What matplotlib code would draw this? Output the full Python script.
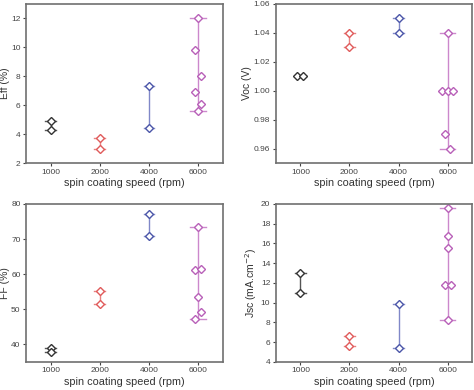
import matplotlib
matplotlib.use("Agg")
import matplotlib.pyplot as plt

plt.rcParams['font.family'] = ['Liberation Sans', 'DejaVu Sans']

speeds = ["1000", "2000", "4000", "6000"]
colors = ["#333333", "#e05a5a", "#4a55a8", "#b860b8"]
line_colors = ["#555555", "#e88080", "#8088c8", "#cc88cc"]

eff = [[4.9, 4.3], [3.7, 3.0], [7.3, 4.4], [12.0, 9.8, 8.0, 6.9, 6.1, 5.6]]
voc = [[1.01, 1.01], [1.04, 1.03], [1.05, 1.04], [1.04, 1.00, 1.00, 1.00, 0.97, 0.96]]
ff = [[38.9, 37.7], [55.3, 51.4], [77.2, 71.0], [73.5, 61.1, 61.5, 53.4, 49.2, 47.3]]
jsc = [[13.0, 11.0], [6.6, 5.6], [9.9, 5.4], [19.6, 16.8, 15.5, 11.8, 11.8, 8.2]]

# horizontal jitter of the points (layout only)
eff_off = [[0, 0], [0, 0], [0, 0], [0, -0.06, 0.06, -0.06, 0.06, 0]]
voc_off = [[-0.06, 0.06], [0, 0], [0, 0], [0, -0.115, 0, 0.115, -0.055, 0.055]]
ff_off = [[0, 0], [0, 0], [0, 0], [0, -0.06, 0.06, 0, 0.06, -0.06]]
jsc_off = [[0, 0], [0, 0], [0, 0], [0, 0, 0, -0.06, 0.06, 0]]

fig = plt.figure(figsize=(4.74, 3.9), dpi=100)

panels = [
    (eff, eff_off, "Eff (%)", (2, 13), [2, 4, 6, 8, 10, 12], None, [0.055, 0.582, 0.415, 0.408]),
    (voc, voc_off, "Voc (V)", (0.95, 1.06), [0.96, 0.98, 1.00, 1.02, 1.04, 1.06], "%.2f", [0.582, 0.582, 0.414, 0.408]),
    (ff, ff_off, "FF (%)", (35, 80), [40, 50, 60, 70, 80], None, [0.055, 0.072, 0.415, 0.405]),
    (jsc, jsc_off, "Jsc (mA.cm$^{-2}$)", (4, 20), [4, 6, 8, 10, 12, 14, 16, 18, 20], None, [0.582, 0.072, 0.414, 0.405]),
]

for data, offs, ylab, ylim, yticks, fmt, pos in panels:
    ax = fig.add_axes(pos)
    for i, (vals, off) in enumerate(zip(data, offs)):
        x = i + 1
        lo, hi = min(vals), max(vals)
        cw = 0.16 if i == 3 else 0.11
        ax.plot([x, x], [lo, hi], color=line_colors[i], lw=1.0, zorder=1)
        ax.plot([x - cw, x + cw], [lo, lo], color=line_colors[i], lw=1.0, zorder=1)
        ax.plot([x - cw, x + cw], [hi, hi], color=line_colors[i], lw=1.0, zorder=1)
        ax.plot([x + o for o in off], vals, linestyle='none', marker='D', ms=4.0,
                mfc='white', mec=colors[i], mew=1.0, zorder=2)
    ax.set_xlim(0.5, 4.5)
    ax.set_ylim(*ylim)
    ax.set_xticks(range(1, 5))
    ax.set_xticklabels(speeds)
    ax.set_yticks(yticks)
    if fmt:
        ax.set_yticklabels([fmt % t for t in yticks])
    ax.set_xlabel("spin coating speed (rpm)", fontsize=7.8, color="#333333", labelpad=2)
    ax.set_ylabel(ylab, fontsize=7.5, color="#333333", labelpad=1)
    ax.tick_params(axis='both', labelsize=6, colors="#444444", length=2.5, width=0.8, direction='out', pad=1.5)
    for sp in ax.spines.values():
        sp.set_color("#707070")
        sp.set_linewidth(1.2)

fig.savefig("out.png", dpi=100)
